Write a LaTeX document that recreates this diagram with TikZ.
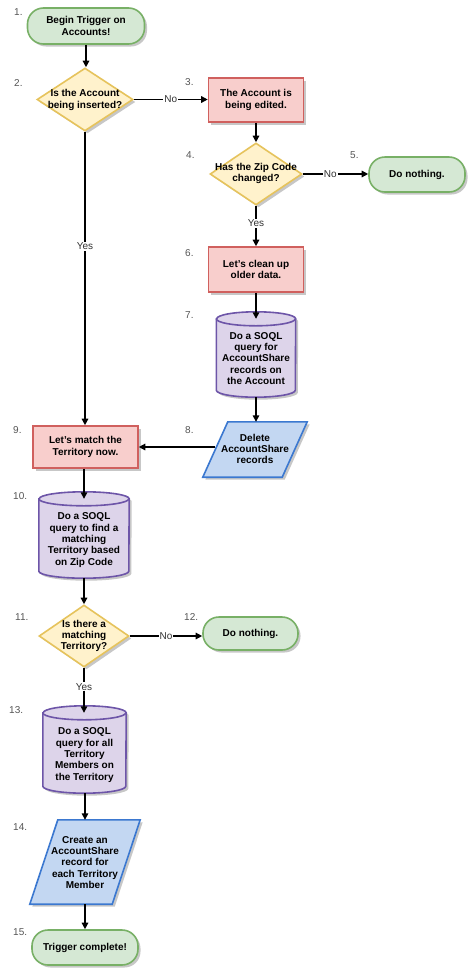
\documentclass[tikz,border=0pt]{standalone}
\usepackage{fontspec}
\setmainfont{Liberation Sans}
\usetikzlibrary{shapes.geometric,shadows,arrows.meta,calc}
\definecolor{gfill}{HTML}{D5E8D4}\definecolor{gdraw}{HTML}{78B066}
\definecolor{yfill}{HTML}{FFF2CC}\definecolor{ydraw}{HTML}{E6C35C}
\definecolor{rfill}{HTML}{F8CECC}\definecolor{rdraw}{HTML}{D0605E}
\definecolor{pfill}{HTML}{DDD4EA}\definecolor{pdraw}{HTML}{6D55A8}
\definecolor{bfill}{HTML}{C3D7F2}\definecolor{bdraw}{HTML}{3B78D0}
\definecolor{numc}{HTML}{555555}
\newcommand{\drawcyl}[2]{%
  \fill[black,opacity=0.22,transform canvas={shift={(2.5pt,-2.5pt)}}]
    ([yshift=-7pt]#1.north west) -- ([yshift=7pt]#1.south west)
    arc[start angle=180,end angle=360,x radius=#2,y radius=7pt]
    -- ([yshift=-7pt]#1.north east)
    arc[start angle=0,end angle=180,x radius=#2,y radius=7pt] -- cycle;
  \draw[cylshape]
    ([yshift=-7pt]#1.north west) -- ([yshift=7pt]#1.south west)
    arc[start angle=180,end angle=360,x radius=#2,y radius=7pt]
    -- ([yshift=-7pt]#1.north east)
    arc[start angle=0,end angle=180,x radius=#2,y radius=7pt] -- cycle;
  \draw[cylshape,fill=none]
    ([yshift=-7pt]#1.north west) arc[start angle=180,end angle=360,x radius=#2,y radius=7pt];
}
\newcommand{\drawpar}[2]{%
  \fill[black,opacity=0.22,transform canvas={shift={(2.5pt,-2.5pt)}}]
    ([xshift=#2]#1.north west) -- (#1.north east) -- ([xshift=-#2]#1.south east) -- (#1.south west) -- cycle;
  \draw[parshape]
    ([xshift=#2]#1.north west) -- (#1.north east) -- ([xshift=-#2]#1.south east) -- (#1.south west) -- cycle;
}
\begin{document}
\begin{tikzpicture}[x=1pt,y=-1pt,
  shad/.style={drop shadow={shadow xshift=2.5pt,shadow yshift=-2.5pt,fill=black,opacity=0.22}},
  base/.style={line width=1.6pt,font=\bfseries\fontsize{10}{11.5}\selectfont,align=center,inner sep=0pt,shad},
  term/.style={base,rectangle,rounded corners=16pt,fill=gfill,draw=gdraw},
  proc/.style={base,rectangle,fill=rfill,draw=rdraw},
  dec/.style={base,diamond,fill=yfill,draw=ydraw},
  hidden/.style={rectangle,inner sep=0pt,draw=none},
  txt/.style={font=\bfseries\fontsize{10}{11.3}\selectfont,align=center,inner sep=0pt},
  num/.style={font=\fontsize{10}{12}\selectfont,text=numc,anchor=west,inner sep=0pt},
  lab/.style={font=\fontsize{10}{12}\selectfont,text=black!80,fill=white,inner sep=1pt},
  conn/.style={line width=1.4pt,-{Triangle[length=6.5pt,width=6.5pt]}},
  cylshape/.style={fill=pfill,draw=pdraw,line width=1.6pt},
  parshape/.style={fill=bfill,draw=bdraw,line width=1.6pt,line join=miter}
]
\fill[white] (0,0) rectangle (474,975);
\useasboundingbox (0,0) rectangle (474,975);

% step numbers
\node[num] (l1) at (14,12) {1.};
\node[num] (l2) at (14,83) {2.};
\node[num] (l3) at (185,82) {3.};
\node[num] (l4) at (186,155) {4.};
\node[num] (l5) at (350,155) {5.};
\node[num] (l6) at (185,253) {6.};
\node[num] (l7) at (185,315) {7.};
\node[num] (l8) at (185,430) {8.};
\node[num] (l9) at (13,430) {9.};
\node[num] (l10) at (13,496) {10.};
\node[num] (l11) at (15,617) {11.};
\node[num] (l12) at (184,617) {12.};
\node[num] (l13) at (9,710) {13.};
\node[num] (l14) at (13,827) {14.};
\node[num] (l15) at (13,932) {15.};

% shapes
\node[term,minimum width=117pt,minimum height=36pt] (n1) at (86,26) {Begin Trigger on\\Accounts!};
\node[dec,minimum width=96pt,minimum height=63pt] (d2) at (85,99.5) {};
\node[txt] (d2t) at (85,100) {Is the Account\\being inserted?};
\node[proc,minimum width=95pt,minimum height=44pt] (r3) at (256,100) {The Account is\\being edited.};
\node[dec,minimum width=92pt,minimum height=62pt] (d4) at (256,174) {};
\node[txt] (d4t) at (256,173.5) {Has the Zip Code\\changed?};
\node[term,minimum width=96pt,minimum height=35pt] (n5) at (417,174.5) {Do nothing.};
\node[proc,minimum width=95pt,minimum height=45pt] (r6) at (256,269.5) {Let's clean up\\older data.};

\node[hidden,minimum width=79pt,minimum height=85pt] (c7) at (256,354.5) {};
\drawcyl{c7}{39.5pt}
\node[txt] (c7t) at (256,358.5) {Do a SOQL\\query for\\AccountShare\\records on\\the Account};
\coordinate (c7top) at ([yshift=-7pt]c7.north);

\node[hidden,minimum width=104pt,minimum height=55pt] (p8) at (255,449.5) {};
\drawpar{p8}{25pt}
\node[txt] (p8t) at (255,449) {Delete\\AccountShare\\records};
\coordinate (p8w) at ([xshift=12.5pt]p8.west);

\node[proc,minimum width=105pt,minimum height=42pt] (r9) at (85.5,447) {Let's match the\\Territory now.};

\node[hidden,minimum width=90pt,minimum height=86pt] (c10) at (84,535) {};
\drawcyl{c10}{45pt}
\node[txt] (c10t) at (84,540) {Do a SOQL\\query to find a\\matching\\Territory based\\on Zip Code};
\coordinate (c10top) at ([yshift=-7pt]c10.north);

\node[dec,minimum width=90pt,minimum height=62pt] (d11) at (84,636) {};
\node[txt] (d11t) at (84,636) {Is there a\\matching\\Territory?};
\node[term,minimum width=95pt,minimum height=33pt] (n12) at (250.5,633.5) {Do nothing.};

\node[hidden,minimum width=83pt,minimum height=87pt] (c13) at (84.5,749.5) {};
\drawcyl{c13}{41.5pt}
\node[txt] (c13t) at (84.5,755) {Do a SOQL\\query for all\\Territory\\Members on\\the Territory};
\coordinate (c13top) at ([yshift=-7pt]c13.north);

\node[hidden,minimum width=110pt,minimum height=84pt] (p14) at (85,862) {};
\drawpar{p14}{28pt}
\node[txt] (p14t) at (85,862.5) {Create an\\AccountShare\\record for\\each Territory\\Member};

\node[term,minimum width=106pt,minimum height=35pt] (n15) at (85,947.5) {Trigger complete!};

% connectors
\draw[conn] (n1.south) -- (n1.south |- d2.north);
\draw[conn] (d2.east) -- (r3.west |- d2.east) node[lab,pos=0.5] {No};
\draw[conn] (r3.south) -- (d4.north);
\draw[conn] (d4.east) -- (n5.west |- d4.east) node[lab,pos=0.42] {No};
\draw[conn] (d4.south) -- (r6.north) node[lab,pos=0.43] {Yes};
\draw[conn] (r6.south) -- (c7top);
\draw[conn] (c7.south) -- (c7.south |- p8.north);
\draw[conn] (p8w |- r9.east) -- (r9.east);
\draw[conn] (d2.south) -- (d2.south |- r9.north) node[lab,pos=0.39] {Yes};
\draw[conn] (r9.south -| c10top) -- (c10top);
\draw[conn] (c10.south) -- (d11.north);
\draw[conn] (d11.east) -- (n12.west |- d11.east) node[lab,pos=0.5] {No};
\draw[conn] (d11.south) -- (d11.south |- c13top) node[lab,pos=0.42] {Yes};
\draw[conn] (c13.south -| p14.north) -- (p14.north);
\draw[conn] (p14.south) -- (n15.north);
\end{tikzpicture}
\end{document}
